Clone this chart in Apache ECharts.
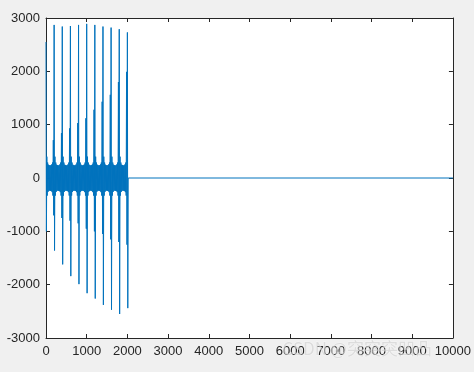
<!DOCTYPE html>
<html><head><meta charset="utf-8">
<script src="https://cdn.jsdelivr.net/npm/echarts@6/dist/echarts.min.js"></script>
<style>html,body{margin:0;padding:0;background:#f0f0f0}#c{width:474px;height:372px}</style>
</head><body><div id="c"></div>
<script>
// sample spacing of the recorded signal (x units)
const sampleStep = 10;
// recorded samples from x = 0 to x = 2020 (one value per sampleStep)
const signalY = [
  2550,-1000, 400,-330, 290,-260, 250,-240, 240,-235, 235,-240, 240,-245, 255,-265, 290,-330, 710,-700,
  2870,-1360, 400,-330, 290,-260, 250,-240, 240,-235, 235,-240, 240,-245, 255,-265, 290,-330, 840,-750,
  2840,-1620, 400,-330, 290,-260, 250,-240, 240,-235, 235,-240, 240,-245, 255,-265, 290,-330, 930,-800,
  2850,-1840, 400,-330, 290,-260, 250,-240, 240,-235, 235,-240, 240,-245, 255,-265, 290,-330, 1030,-850,
  2870,-1990, 400,-330, 290,-260, 250,-240, 240,-235, 235,-240, 240,-245, 255,-265, 290,-330, 1120,-950,
  2890,-2160, 400,-330, 290,-260, 250,-240, 240,-235, 235,-240, 240,-245, 255,-265, 290,-330, 1280,-1000,
  2870,-2260, 400,-330, 290,-260, 250,-240, 240,-235, 235,-240, 240,-245, 255,-265, 290,-330, 1430,-1050,
  2840,-2380, 400,-330, 290,-260, 250,-240, 240,-235, 235,-240, 240,-245, 255,-265, 290,-330, 1560,-1150,
  2820,-2470, 400,-330, 290,-260, 250,-240, 240,-235, 235,-240, 240,-245, 255,-265, 290,-330, 1800,-1200,
  2790,-2550, 400,-330, 290,-260, 250,-240, 240,-235, 235,-240, 240,-245, 255,-265, 290,-330, 1990,-1250,
  2730,-2440, 0
];
// flat tail after the burst
const tailX = [10000];
const tailY = [0];
const xTicks = [0,1000,2000,3000,4000,5000,6000,7000,8000,9000,10000];
const yTicks = [-3000,-2000,-1000,0,1000,2000,3000];

const data = signalY.map((v,i)=>[i*sampleStep, v]);
tailX.forEach((x,i)=>data.push([x, tailY[i]]));

const axisCol = '#262626';
const fmt = v => String(v);
const font = {fontFamily:'Liberation Sans, Arial, sans-serif', fontSize:13, color:'#262626', formatter:fmt};
const chart = echarts.init(document.getElementById('c'), null, {renderer:'canvas'});
chart.setOption({
  backgroundColor:'#f0f0f0',
  animation:false,
  grid:{left:46, right:21, top:18, bottom:34, show:true, backgroundColor:'#ffffff', borderWidth:0},
  xAxis:[
    {type:'value', min:xTicks[0], max:xTicks[xTicks.length-1], interval:1000,
     axisLine:{show:true, onZero:false, lineStyle:{color:axisCol,width:1}},
     axisTick:{show:true, inside:true, length:4, lineStyle:{color:axisCol}},
     axisLabel:Object.assign({margin:7}, font),
     splitLine:{show:false}},
    {type:'value', position:'top', min:0, max:10000, interval:1000,
     axisLine:{show:true, onZero:false, lineStyle:{color:axisCol,width:1}},
     axisTick:{show:true, inside:true, length:4, lineStyle:{color:axisCol}},
     axisLabel:{show:false}, splitLine:{show:false}}
  ],
  yAxis:[
    {type:'value', min:yTicks[0], max:yTicks[yTicks.length-1], interval:1000,
     axisLine:{show:true, onZero:false, lineStyle:{color:axisCol,width:1}},
     axisTick:{show:true, inside:true, length:4, lineStyle:{color:axisCol}},
     axisLabel:Object.assign({margin:6}, font),
     splitLine:{show:false}},
    {type:'value', position:'right', min:-3000, max:3000, interval:1000,
     axisLine:{show:true, onZero:false, lineStyle:{color:axisCol,width:1}},
     axisTick:{show:true, inside:true, length:4, lineStyle:{color:axisCol}},
     axisLabel:{show:false}, splitLine:{show:false}}
  ],
  series:[{
    type:'line', data:data, showSymbol:false, symbol:'none',
    lineStyle:{color:'#0072bd', width:1}, clip:true
  }],
  graphic:[{
    type:'text', left:282, top:340, z:100,
    style:{text:'CSDN @突突突凹凸', fontSize:17, fontFamily:'Noto Sans CJK SC, sans-serif',
      fill:'rgba(200,200,200,0.55)', stroke:'rgba(255,255,255,0.4)', lineWidth:1}
  }]
});
</script></body></html>
